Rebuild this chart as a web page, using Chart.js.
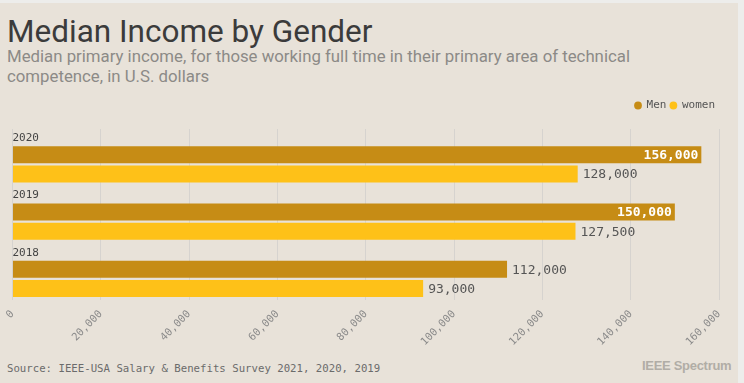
<!DOCTYPE html>
<html><head><meta charset="utf-8">
<script src="https://cdn.jsdelivr.net/npm/chart.js@4"></script>
<style>
html,body{margin:0;padding:0;width:744px;height:383px;overflow:hidden;background:#ededeb;}
#bg{position:absolute;left:0;top:3px;width:738px;height:380px;background:#e8e2d9;}
#title{position:absolute;left:7px;top:13px;font:400 31.5px Roboto,sans-serif;color:#3b3b3b;white-space:nowrap;}
#sub{position:absolute;left:7px;top:46px;font:400 16.8px Roboto,sans-serif;color:#8c8a87;line-height:20px;width:680px;}
#src{position:absolute;left:7px;top:362px;font:10.7px "DejaVu Sans Mono",monospace;color:#6b6b6b;white-space:nowrap;}
#logo{position:absolute;left:642px;top:358px;font:700 13px "Liberation Sans Narrow","Liberation Sans",sans-serif;color:#b1ada6;letter-spacing:-0.3px;white-space:nowrap;}
#c{position:absolute;left:0;top:0;}
</style></head>
<body>
<div id="bg"></div>
<div id="title">Median Income by Gender</div>
<div id="sub">Median primary income, for those working full time in their primary area of technical<br>competence, in U.S. dollars</div>
<div id="src">Source: IEEE-USA Salary &amp; Benefits Survey 2021, 2020, 2019</div>
<div id="logo">IEEE Spectrum</div>
<canvas id="c" width="744" height="383"></canvas>
<script>
const years = [2020, 2019, 2018];
const menIncome = [156000, 150000, 112000];
const womenIncome = [128000, 127500, 93000];
const seriesNames = ['Men', 'women'];
const xTickValues = [0, 20000, 40000, 60000, 80000, 100000, 120000, 140000, 160000];

const MONO = '"DejaVu Sans Mono", monospace';
const menColor = '#c68c15';
const womenColor = '#fec118';

const barLabels = {
  id: 'barLabels',
  afterDatasetsDraw(chart) {
    const ctx = chart.ctx, area = chart.chartArea;
    chart.data.datasets.forEach((ds, di) => {
      const meta = chart.getDatasetMeta(di);
      meta.data.forEach((bar, i) => {
        const v = ds.data[i].x;
        const txt = v.toLocaleString('en-US');
        ctx.save();
        ctx.font = '13px ' + MONO;
        const w = ctx.measureText(txt).width;
        ctx.textBaseline = 'middle';
        if (bar.x + 5 + w > area.right) {
          ctx.font = 'bold 13px ' + MONO;
          ctx.fillStyle = '#ffffff';
          ctx.textAlign = 'right';
          ctx.fillText(txt, bar.x - 3, bar.y + 1);
        } else {
          ctx.fillStyle = '#555555';
          ctx.textAlign = 'left';
          ctx.fillText(txt, bar.x + 5, bar.y + 1);
        }
        ctx.restore();
      });
    });
  }
};

new Chart(document.getElementById('c'), {
  type: 'bar',
  data: {
    datasets: [
      { label: seriesNames[0], data: years.map((y, i) => ({ x: menIncome[i], y })), backgroundColor: menColor, categoryPercentage: 0.672, barPercentage: 0.88 },
      { label: seriesNames[1], data: years.map((y, i) => ({ x: womenIncome[i], y })), backgroundColor: womenColor, categoryPercentage: 0.672, barPercentage: 0.88 }
    ]
  },
  options: {
    indexAxis: 'y',
    responsive: false,
    animation: false,
    layout: { padding: { left: 11, right: 25, top: 96, bottom: 33 } },
    plugins: {
      legend: {
        position: 'top', align: 'end',
        labels: { usePointStyle: true, pointStyle: 'circle', boxWidth: 6, boxHeight: 5.5, padding: 4, color: '#555', font: { family: MONO, size: 11 } }
      },
      title: { display: true, text: '', weight: 100, font: { size: 1, lineHeight: 1 }, padding: { top: 0, bottom: 7 } },
      tooltip: { enabled: false }
    },
    scales: {
      x: {
        type: 'linear', position: 'bottom', min: 0, max: 160000,
        afterBuildTicks: s => { s.ticks = xTickValues.map(v => ({ value: v })); },
        afterFit: s => { s.height = 50; },
        grid: { color: '#d6d3cf', drawTicks: false },
        border: { display: false },
        ticks: { minRotation: 45, maxRotation: 45, padding: 8, color: '#8a8a8a', font: { family: MONO, size: 10.5 } }
      },
      y: {
        type: 'linear', offset: false, min: 2017.633, max: 2020.616,
        afterBuildTicks: s => { s.ticks = years.map(v => ({ value: v })); },
        grid: { display: false, drawTicks: false, offset: false },
        border: { display: false },
        ticks: { mirror: true, padding: 0, labelOffset: -26, color: '#444', font: { family: MONO, size: 11 }, callback: v => String(v) }
      }
    }
  },
  plugins: [barLabels]
});
</script>
</body></html>
